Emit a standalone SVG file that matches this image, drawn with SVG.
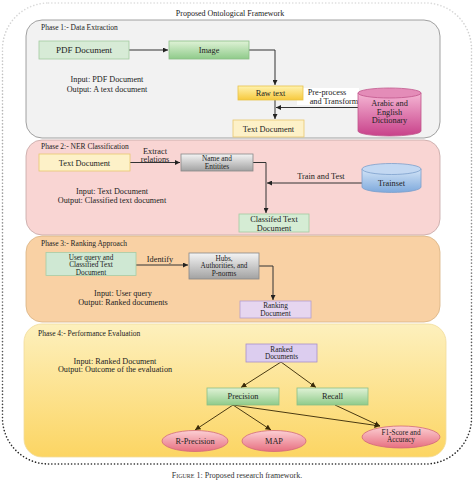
<svg xmlns="http://www.w3.org/2000/svg" width="474" height="481" viewBox="0 0 474 481">
<defs>
<style>
text{font-family:"Liberation Serif","Times New Roman",serif;fill:#222;}
.t{font-size:8.3px;text-anchor:middle;}
.m{font-size:7.3px;text-anchor:middle;}
.io{font-size:8.2px;text-anchor:middle;}
.ph{font-size:7.5px;}
.c{fill:none;stroke:#333;stroke-width:1;}
.cb{fill:none;stroke:#4a3a12;stroke-width:1;}
</style>
<marker id="ah" viewBox="0 0 6 6" refX="6" refY="3" markerWidth="5" markerHeight="5" orient="auto" markerUnits="userSpaceOnUse">
<path d="M0,0 L6,3 L0,6 z" fill="#222"/>
</marker>
<marker id="ahb" viewBox="0 0 6 6" refX="6" refY="3" markerWidth="5.5" markerHeight="5.5" orient="auto" markerUnits="userSpaceOnUse">
<path d="M0,0 L6,3 L0,6 z" fill="#3a2a08"/>
</marker>
<linearGradient id="outerG" gradientUnits="userSpaceOnUse" x1="0" y1="0" x2="0" y2="470">
<stop offset="0" stop-color="#dcdcdc"/><stop offset="0.5" stop-color="#8a8a8a"/><stop offset="1" stop-color="#222"/>
</linearGradient>
<linearGradient id="p4" x1="0" y1="0" x2="0" y2="1">
<stop offset="0" stop-color="#fdf0bd"/><stop offset="1" stop-color="#fcd563"/>
</linearGradient>
<linearGradient id="gGreen" x1="0" y1="0" x2="0" y2="1">
<stop offset="0" stop-color="#dff2d6"/><stop offset="1" stop-color="#8fcb8a"/>
</linearGradient>
<linearGradient id="gYellow" x1="0" y1="0" x2="0" y2="1">
<stop offset="0" stop-color="#fff3b0"/><stop offset="1" stop-color="#f7c93c"/>
</linearGradient>
<linearGradient id="gGray" x1="0" y1="0" x2="0" y2="1">
<stop offset="0" stop-color="#f4f4f4"/><stop offset="1" stop-color="#a2a2a2"/>
</linearGradient>
<linearGradient id="gPink" x1="0" y1="0" x2="0" y2="1">
<stop offset="0" stop-color="#f5b6d4"/><stop offset="1" stop-color="#c8418a"/>
</linearGradient>
<linearGradient id="gBlue" x1="0" y1="0" x2="0" y2="1">
<stop offset="0" stop-color="#d3e4f7"/><stop offset="1" stop-color="#7ea9dc"/>
</linearGradient>
<linearGradient id="gRed" x1="0" y1="0" x2="0" y2="1">
<stop offset="0" stop-color="#fcd0d4"/><stop offset="1" stop-color="#e76f80"/>
</linearGradient>
</defs>

<rect width="474" height="481" fill="#fff"/>
<rect x="2.5" y="3" width="469" height="461" rx="46" fill="none" stroke="url(#outerG)" stroke-width="1.6" stroke-dasharray="0.1 3.2" stroke-linecap="round"/>
<text x="230" y="16" style="font-size:8px;text-anchor:middle">Proposed Ontological Framework</text>

<g id="phase1">
<rect x="26" y="20" width="414" height="118" rx="16" fill="#f2f2f2" stroke="#8a8a8a" stroke-width="0.8"/>
<text class="ph" x="41" y="30">Phase 1:- Data Extraction</text>
<text class="io" x="107" y="82">Input: PDF Document</text>
<text class="io" x="107" y="92">Output: A text document</text>
</g>
<g id="phase2">
<rect x="26" y="140" width="414" height="95" rx="16" fill="#f9d5d3" stroke="#c4a6a4" stroke-width="0.8"/>
<text class="ph" x="41" y="149">Phase 2:- NER Classification</text>
<text class="io" x="112" y="194">Input: Text Document</text>
<text class="io" x="112" y="202.5">Output: Classified text document</text>
</g>
<g id="phase3">
<rect x="26" y="236" width="414" height="86" rx="16" fill="#f9d1a4" stroke="#d8b283" stroke-width="0.8"/>
<text class="ph" x="41" y="246">Phase 3:- Ranking Approach</text>
<text class="io" x="123" y="296">Input: User query</text>
<text class="io" x="123" y="305">Output: Ranked documents</text>
</g>
<g id="phase4">
<rect x="24" y="324" width="422" height="133" rx="18" fill="url(#p4)" stroke="#f1dc9c" stroke-width="0.8"/>
<text class="ph" x="38" y="336">Phase 4:- Performance Evaluation</text>
<text class="io" x="115" y="363.5">Input: Ranked Document</text>
<text class="io" x="115" y="372">Output: Outcome of the evaluation</text>
</g>

<g id="connectors">
<line class="c" x1="129" y1="50" x2="168" y2="50" marker-end="url(#ah)"/>
<polyline class="c" points="249,50 275,50 275,85" marker-end="url(#ah)"/>
<line class="c" x1="275" y1="100" x2="275" y2="119" marker-end="url(#ah)"/>
<line class="c" x1="358" y1="107.5" x2="276" y2="107.5" marker-end="url(#ah)"/>
<rect x="297" y="88" width="62" height="17" fill="#fff"/>
<text class="t" x="327" y="94.5">Pre-process</text>
<text class="t" x="334" y="103.5">and Transform</text>

<line class="c" x1="130" y1="162.5" x2="180" y2="162.5" marker-end="url(#ah)"/>
<text class="t" x="155" y="153.5">Extract</text>
<text class="t" x="155" y="162">relations</text>
<polyline class="c" points="253,162.5 266,162.5 266,213" marker-end="url(#ah)"/>
<line class="c" x1="362" y1="183" x2="267" y2="183" marker-end="url(#ah)"/>
<text class="t" x="321" y="179">Train and Test</text>

<line class="c" x1="136" y1="265" x2="188" y2="265" marker-end="url(#ah)"/>
<text class="t" x="160" y="262">Identify</text>
<polyline class="c" points="259,266 273,266 273,300" marker-end="url(#ah)"/>

<line class="cb" x1="281" y1="362" x2="241" y2="387.5" marker-end="url(#ahb)"/>
<line class="cb" x1="281" y1="362" x2="316" y2="387.5" marker-end="url(#ahb)"/>
<line class="cb" x1="233" y1="405" x2="195" y2="430" marker-end="url(#ahb)"/>
<line class="cb" x1="233" y1="405" x2="271" y2="430" marker-end="url(#ahb)"/>
<line class="cb" x1="233" y1="405" x2="380" y2="426" marker-end="url(#ahb)"/>
<line class="cb" x1="335" y1="405" x2="380" y2="426" marker-end="url(#ahb)"/>
</g>

<g id="pdf-document">
<rect x="39" y="41" width="90" height="18" fill="#d7ebd6" stroke="#a3cba0" stroke-width="0.8"/>
<text x="84" y="53" style="font-size:9px;text-anchor:middle">PDF Document</text>
</g>
<g id="image">
<rect x="169" y="41" width="80" height="18" fill="url(#gGreen)" stroke="#8abf86" stroke-width="0.8"/>
<text class="t" x="209" y="53">Image</text>
</g>
<g id="raw-text">
<rect x="238" y="86" width="65" height="14" fill="url(#gYellow)" stroke="#e8c24a" stroke-width="0.8"/>
<text class="t" x="270.5" y="96">Raw text</text>
</g>
<g id="text-document-1">
<rect x="233" y="120" width="71" height="17" fill="#fdf1c8" stroke="#e9c96e" stroke-width="0.8"/>
<text class="t" x="268.5" y="131.5">Text Document</text>
</g>
<g id="dictionary">
<path d="M358,93 L358,131 A31.5,5 0 0 0 421,131 L421,93" fill="url(#gPink)" stroke="#c0558c" stroke-width="0.8"/>
<ellipse cx="389.5" cy="93" rx="31.5" ry="5" fill="#e48cb8" stroke="#c0558c" stroke-width="0.8"/>
<text class="t" x="389.5" y="106">Arabic and</text>
<text class="t" x="389.5" y="114.5">English</text>
<text class="t" x="389.5" y="123">Dictionary</text>
</g>

<g id="text-document-2">
<rect x="39" y="154" width="91" height="17" fill="#fdf1c8" stroke="#e9c96e" stroke-width="0.8"/>
<text class="t" x="84.5" y="165.5">Text Document</text>
</g>
<g id="name-entities">
<rect x="181" y="154" width="72" height="17" fill="url(#gGray)" stroke="#888" stroke-width="0.8"/>
<text class="m" x="217" y="161">Name and</text>
<text class="m" x="217" y="169">Entitites</text>
</g>
<g id="trainset">
<path d="M362,169 L362,187 A29.5,5.5 0 0 0 421,187 L421,169" fill="url(#gBlue)" stroke="#7c9fcc" stroke-width="0.8"/>
<ellipse cx="391.5" cy="169" rx="29.5" ry="5.5" fill="#c3d8f2" stroke="#7c9fcc" stroke-width="0.8"/>
<text class="t" x="391.5" y="185.5">Trainset</text>
</g>
<g id="classified-text-document">
<rect x="239" y="214" width="70" height="18" fill="#d5ecd4" stroke="#a3cba0" stroke-width="0.8"/>
<text class="t" x="274" y="222">Classifed Text</text>
<text class="t" x="274" y="230.5">Document</text>
</g>

<g id="user-query">
<rect x="46" y="252.5" width="90" height="23" fill="#cfe8d3" stroke="#a6cca6" stroke-width="0.8"/>
<text class="m" x="91" y="259.5">User query and</text>
<text class="m" x="91" y="267">Classified Text</text>
<text class="m" x="91" y="274.5">Document</text>
</g>
<g id="hubs">
<rect x="189" y="253" width="70" height="26" fill="url(#gGray)" stroke="#888" stroke-width="0.8"/>
<text class="m" x="224" y="260.5">Hubs,</text>
<text class="m" x="224" y="268.2">Authorities, and</text>
<text class="m" x="224" y="276">P-norms</text>
</g>
<g id="ranking-document">
<rect x="240" y="301" width="71" height="17" fill="#e6d6f0" stroke="#b59fcc" stroke-width="0.8"/>
<text class="m" x="275.5" y="308.3">Ranking</text>
<text class="m" x="275.5" y="316">Document</text>
</g>

<g id="ranked-documents">
<rect x="246" y="344" width="71" height="18" fill="#dccdef" stroke="#a890c8" stroke-width="0.8"/>
<text class="m" x="281.5" y="351.5">Ranked</text>
<text class="m" x="281.5" y="359.3">Documents</text>
</g>
<g id="precision">
<rect x="207" y="388" width="72" height="17" fill="url(#gGreen)" stroke="#8abf86" stroke-width="0.8"/>
<text class="t" x="243" y="399">Precision</text>
</g>
<g id="recall">
<rect x="297" y="388" width="71" height="17" fill="url(#gGreen)" stroke="#8abf86" stroke-width="0.8"/>
<text class="t" x="332.5" y="399">Recall</text>
</g>
<g id="r-precision">
<ellipse cx="195" cy="441" rx="33" ry="10.5" fill="url(#gRed)" stroke="#d2697a" stroke-width="0.8"/>
<text class="t" x="195" y="444">R-Precision</text>
</g>
<g id="map">
<ellipse cx="274" cy="441" rx="32" ry="10.5" fill="url(#gRed)" stroke="#d2697a" stroke-width="0.8"/>
<text class="t" x="274" y="444">MAP</text>
</g>
<g id="f1-score">
<ellipse cx="401" cy="437" rx="39" ry="11" fill="url(#gRed)" stroke="#d2697a" stroke-width="0.8"/>
<text class="m" x="401" y="434.5">F1-Score and</text>
<text class="m" x="401" y="442.3">Accuracy</text>
</g>

<text x="237" y="478" style="font-size:8px;text-anchor:middle;fill:#333"><tspan style="font-variant:small-caps">Figure</tspan> 1: Proposed research framework.</text>
</svg>
